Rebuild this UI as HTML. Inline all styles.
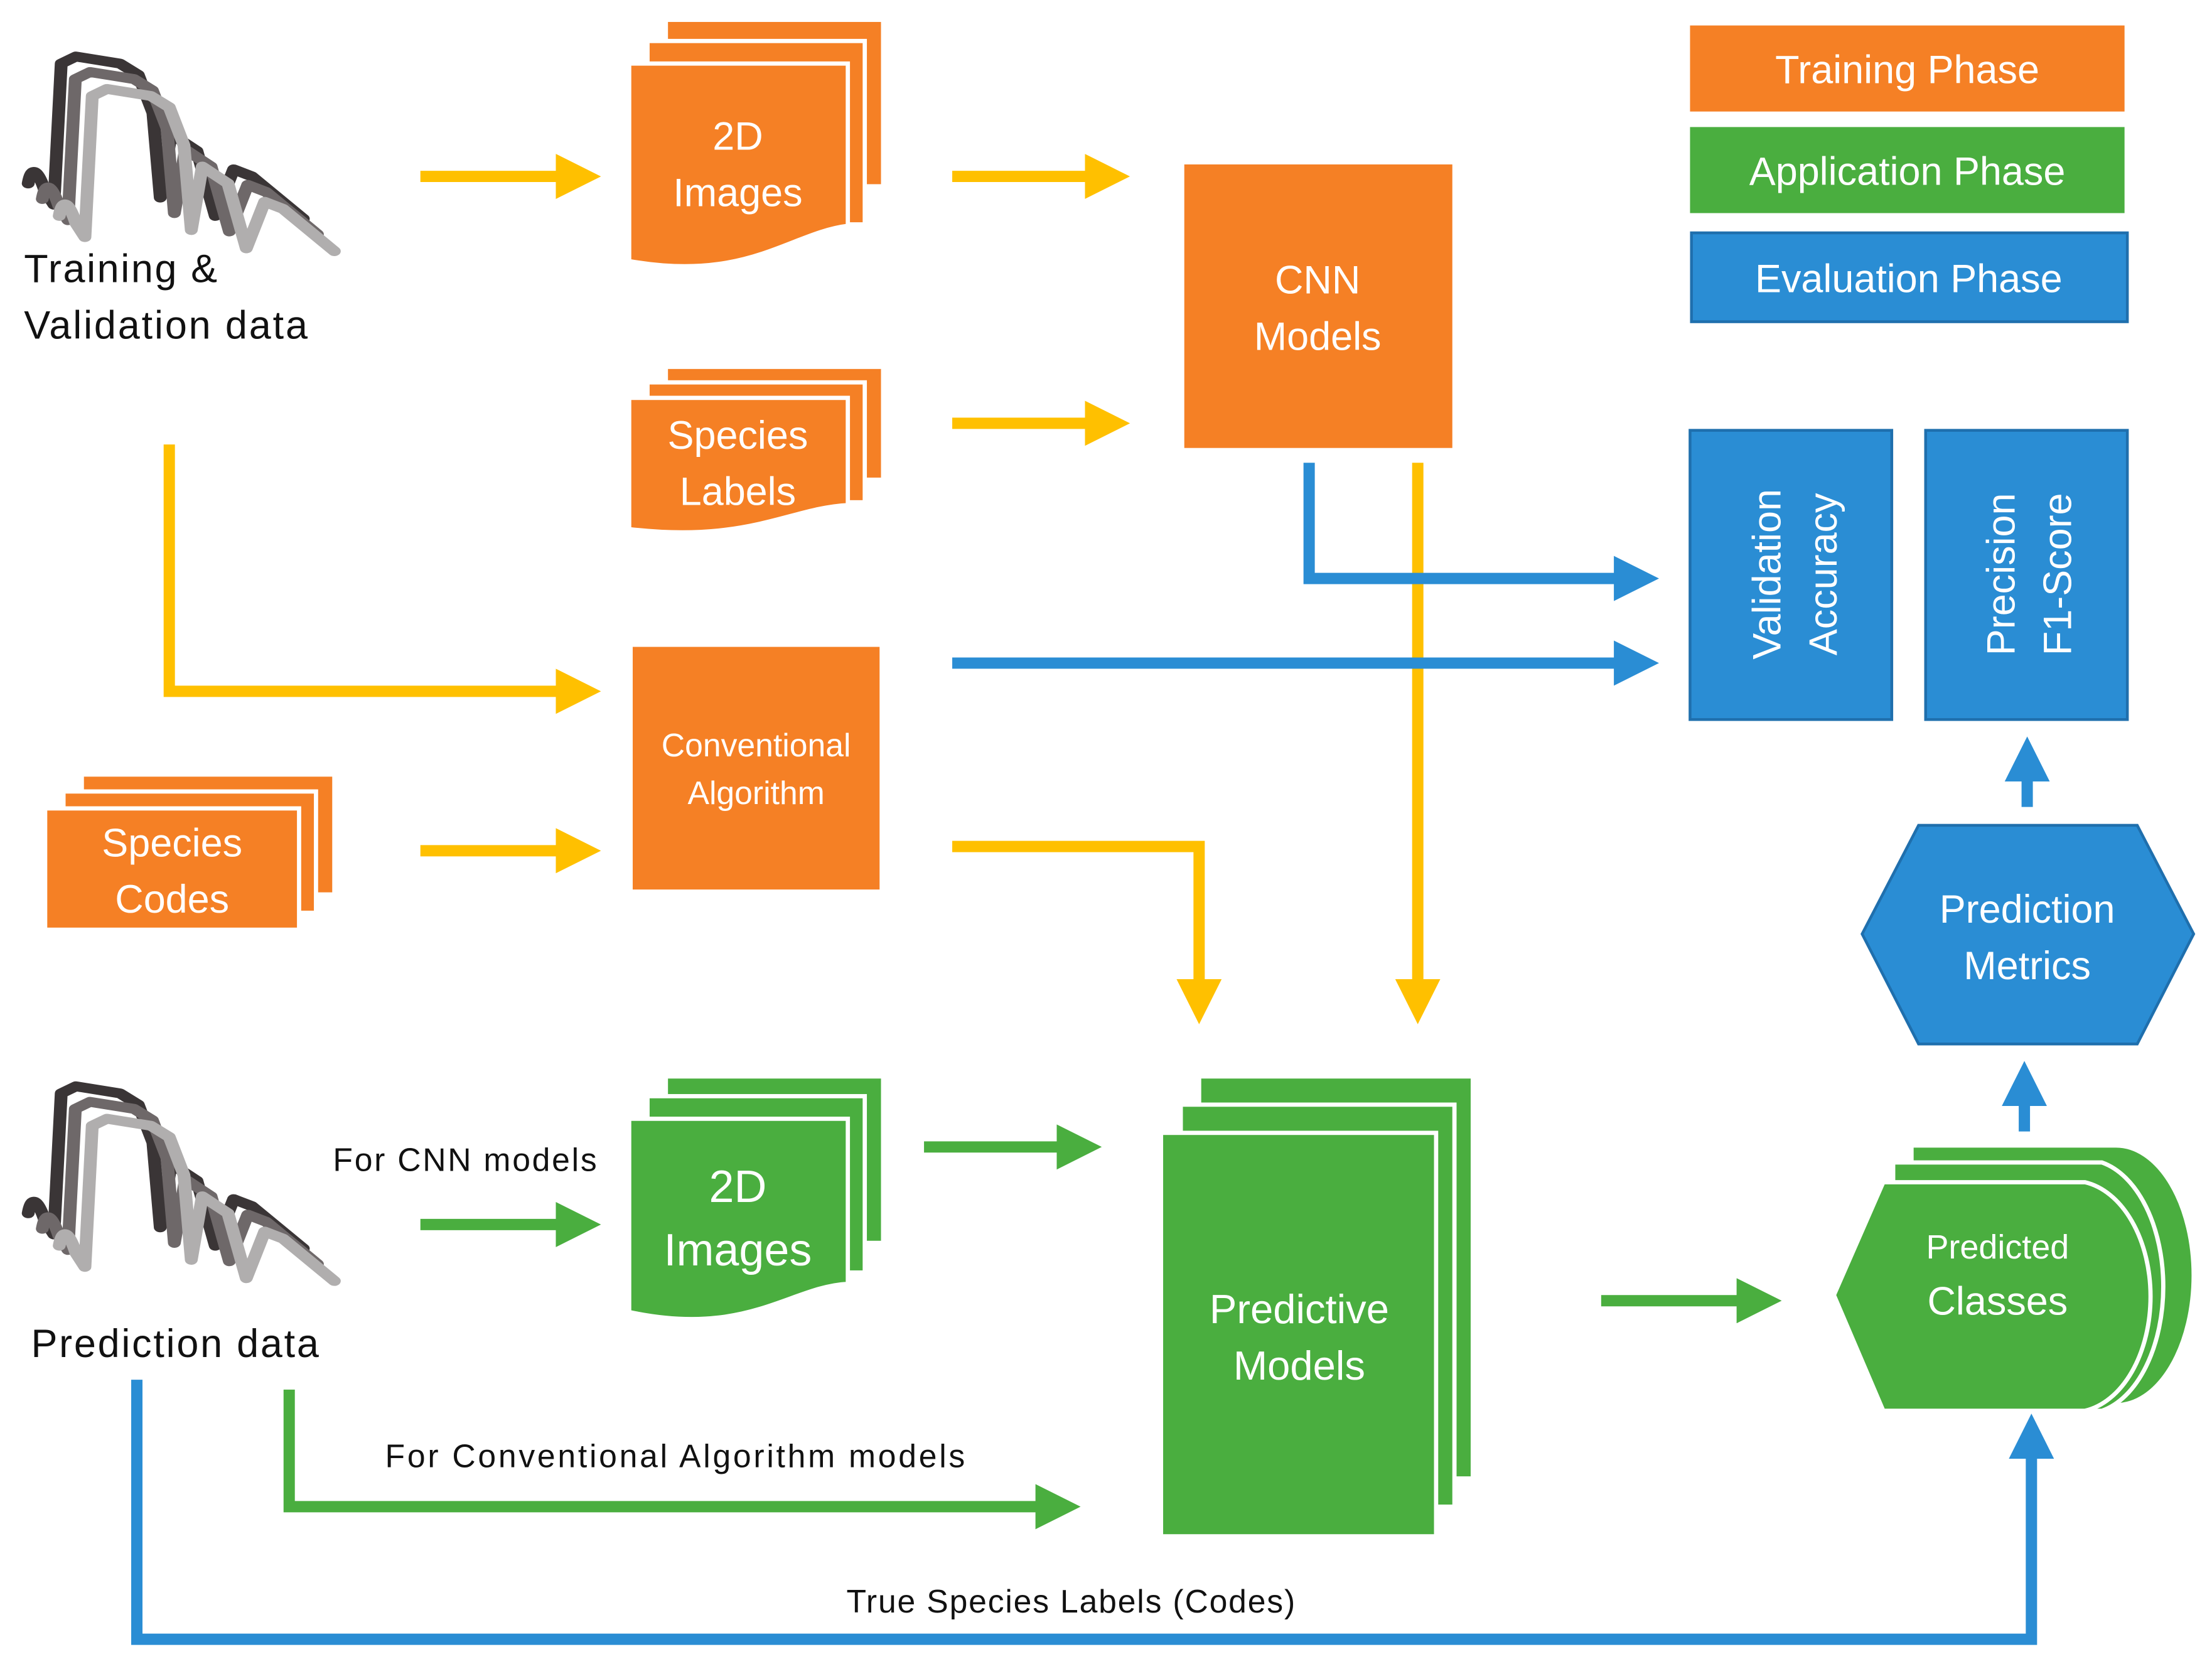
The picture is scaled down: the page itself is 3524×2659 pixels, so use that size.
<!DOCTYPE html>
<html><head><meta charset="utf-8"><style>
html,body{margin:0;padding:0;background:#fff;}
svg{display:block;}
text{font-family:"Liberation Sans",sans-serif;}
</style></head><body>
<svg width="3524" height="2659" viewBox="0 0 1568 1183" xmlns="http://www.w3.org/2000/svg">
<defs>
<marker id="ay" markerWidth="4" markerHeight="4" refX="2" refY="2" orient="auto" markerUnits="strokeWidth"><path d="M0,0 L4,2 L0,4 Z" fill="#FFC000"/></marker>
<marker id="ag" markerWidth="4" markerHeight="4" refX="2" refY="2" orient="auto" markerUnits="strokeWidth"><path d="M0,0 L4,2 L0,4 Z" fill="#4AAE3F"/></marker>
<marker id="ab" markerWidth="4" markerHeight="4" refX="2" refY="2" orient="auto" markerUnits="strokeWidth"><path d="M0,0 L4,2 L0,4 Z" fill="#2A8DD4"/></marker>
<g id="wave" fill="none" stroke-width="7" stroke-linejoin="round" stroke-linecap="round">
<path d="M0,-5 C2,-20 6,-12 9,0 L14,10 L18,-90 L26,-95 L50,-90 L60,-82 L68,-55 L72,5 L78,-40 L92,-28 L102,18 L112,-15 L122,-10 L150,20"/>
</g>
</defs>
<g transform="translate(20,135) scale(1.3,1)"><use href="#wave" stroke="#3a3536"/></g>
<g transform="translate(30,146) scale(1.3,1)"><use href="#wave" stroke="#6e6869"/></g>
<g transform="translate(42,158) scale(1.3,1)"><use href="#wave" stroke="#b0aeae"/></g>
<g transform="translate(20,865) scale(1.3,1)"><use href="#wave" stroke="#3a3536"/></g>
<g transform="translate(30,876) scale(1.3,1)"><use href="#wave" stroke="#6e6869"/></g>
<g transform="translate(42,888) scale(1.3,1)"><use href="#wave" stroke="#b0aeae"/></g>

<text x="17" y="200" font-size="28" fill="#111" textLength="137">Training &amp;</text>
<text x="17" y="240" font-size="28" fill="#111" textLength="201">Validation data</text>
<text x="22" y="962" font-size="28" fill="#111" textLength="204">Prediction data</text>
<text x="236" y="830" font-size="23" fill="#111" textLength="187">For CNN models</text>
<text x="273" y="1040" font-size="23" fill="#111" textLength="411">For Conventional Algorithm models</text>
<text x="600" y="1143" font-size="23" fill="#111" textLength="318">True Species Labels (Codes)</text>

<g stroke="#FFC000" stroke-width="8" fill="none">
<line x1="298" y1="125" x2="410" y2="125" marker-end="url(#ay)"/>
<line x1="675" y1="125" x2="785" y2="125" marker-end="url(#ay)"/>
<line x1="675" y1="300" x2="785" y2="300" marker-end="url(#ay)"/>
<polyline points="120,315 120,490 410,490" marker-end="url(#ay)"/>
<line x1="298" y1="603" x2="410" y2="603" marker-end="url(#ay)"/>
<polyline points="675,600 850,600 850,710" marker-end="url(#ay)"/>
<line x1="1005" y1="328" x2="1005" y2="710" marker-end="url(#ay)"/>
</g>
<g stroke="#2A8DD4" stroke-width="8" fill="none">
<polyline points="928,328 928,410 1160,410" marker-end="url(#ab)"/>
<line x1="675" y1="470" x2="1160" y2="470" marker-end="url(#ab)"/>
<line x1="1437" y1="572" x2="1437" y2="538" marker-end="url(#ab)"/>
<line x1="1435" y1="802" x2="1435" y2="768" marker-end="url(#ab)"/>
<polyline points="97,978 97,1162 1440,1162 1440,1018" marker-end="url(#ab)"/>
</g>
<g stroke="#4AAE3F" stroke-width="8" fill="none">
<line x1="298" y1="868" x2="410" y2="868" marker-end="url(#ag)"/>
<line x1="655" y1="813" x2="765" y2="813" marker-end="url(#ag)"/>
<line x1="1135" y1="922" x2="1247" y2="922" marker-end="url(#ag)"/>
<polyline points="205,985 205,1068 750,1068" marker-end="url(#ag)"/>
</g>

<g fill="#F58025" stroke="#fff" stroke-width="3">
<rect x="472" y="14" width="154" height="118"/>
<rect x="459" y="29" width="154" height="130"/>
<path d="M446,45 H601 V160 C560,165 530,200 446,185 Z"/>
<rect x="472" y="260" width="154" height="80"/>
<rect x="459" y="271" width="154" height="85"/>
<path d="M446,282 H601 V358 C560,360 530,385 446,375 Z"/>
<rect x="838" y="115" width="193" height="204"/>
<rect x="447" y="457" width="178" height="175"/>
<rect x="58" y="549" width="179" height="85"/>
<rect x="45" y="561" width="179" height="86"/>
<rect x="32" y="573" width="180" height="86"/>
</g>
<g fill="#4AAE3F" stroke="#fff" stroke-width="3">
<rect x="472" y="763" width="154" height="118"/>
<rect x="459" y="777" width="154" height="125"/>
<path d="M446,793 H601 V910 C560,912 530,948 446,930 Z"/>
<rect x="850" y="763" width="194" height="285"/>
<rect x="837" y="783" width="194" height="285"/>
<rect x="823" y="803" width="195" height="286"/>
<path d="M1355,812 H1500 A55,92 0 0 1 1500,996 H1355 Z"/>
<path d="M1342,824 H1490 A55,90 0 0 1 1490,1000 H1342 Z"/>
<path d="M1335,838 H1478 A55,82 0 0 1 1478,1000 H1335 L1300,918 Z"/>
</g>
<g fill="#2A8DD4" stroke="#1F6FAD" stroke-width="2">
<rect x="1198" y="305" width="143" height="205"/>
<rect x="1365" y="305" width="143" height="205"/>
<polygon points="1320,662 1360,585 1515,585 1555,662 1515,740 1360,740"/>
<rect x="1199" y="165" width="309" height="63"/>
</g>
<rect x="1198" y="18" width="308" height="61" fill="#F58025"/>
<rect x="1198" y="90" width="308" height="61" fill="#4AAE3F"/>

<g fill="#fff" text-anchor="middle">
<text x="1352" y="59" font-size="28">Training Phase</text>
<text x="1352" y="131" font-size="28">Application Phase</text>
<text x="1353" y="207" font-size="28">Evaluation Phase</text>
<text x="523" y="106" font-size="28">2D</text>
<text x="523" y="146" font-size="28">Images</text>
<text x="523" y="318" font-size="28">Species</text>
<text x="523" y="358" font-size="28">Labels</text>
<text x="934" y="208" font-size="28">CNN</text>
<text x="934" y="248" font-size="28">Models</text>
<text x="536" y="536" font-size="23">Conventional</text>
<text x="536" y="570" font-size="23">Algorithm</text>
<text x="122" y="607" font-size="28">Species</text>
<text x="122" y="647" font-size="28">Codes</text>
<text x="523" y="852" font-size="32">2D</text>
<text x="523" y="897" font-size="32">Images</text>
<text x="921" y="938" font-size="29">Predictive</text>
<text x="921" y="978" font-size="29">Models</text>
<text x="1416" y="892" font-size="24">Predicted</text>
<text x="1416" y="932" font-size="28">Classes</text>
<text x="1437" y="654" font-size="28">Prediction</text>
<text x="1437" y="694" font-size="28">Metrics</text>
<text transform="translate(1262,407) rotate(-90)" font-size="28">Validation</text>
<text transform="translate(1302,407) rotate(-90)" font-size="28">Accuracy</text>
<text transform="translate(1428,407) rotate(-90)" font-size="28">Precision</text>
<text transform="translate(1468,407) rotate(-90)" font-size="28">F1-Score</text>
</g>
</svg>
</body></html>
